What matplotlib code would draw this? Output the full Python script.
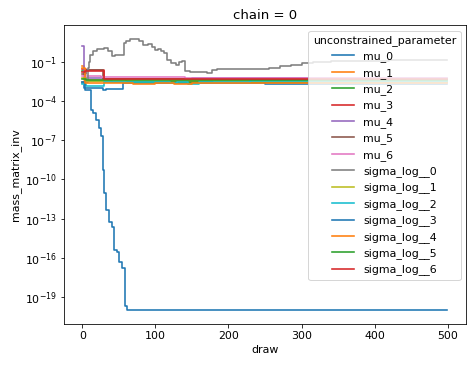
import matplotlib
matplotlib.use("Agg")
import matplotlib.pyplot as plt
import numpy as np

plt.rcParams["font.size"] = 11

# step series: draws where the value changes, and the value from that draw on
names = ["mu_0", "mu_1", "mu_2", "mu_3", "mu_4", "mu_5", "mu_6",
         "sigma_log__0", "sigma_log__1", "sigma_log__2", "sigma_log__3",
         "sigma_log__4", "sigma_log__5", "sigma_log__6"]

mu_0_x = [0, 3, 28, 33, 56, 120, 250]
mu_0_y = [2.5e-3, 9.5e-4, 7.0e-4, 8.0e-4, 2.4e-3, 2.2e-3, 2.1e-3]

mu_1_x = [0, 3, 30, 100, 200]
mu_1_y = [5.0e-2, 4.0e-3, 3.0e-3, 2.8e-3, 2.6e-3]

mu_2_x = [0, 4, 40, 150]
mu_2_y = [1.8e-2, 3.5e-3, 2.8e-3, 3.0e-3]

mu_3_x = [0, 5, 30, 120]
mu_3_y = [3.0e-2, 2.3e-2, 4.5e-3, 4.2e-3]

mu_4_x = [0, 3, 30, 150]
mu_4_y = [1.7, 6.0e-3, 5.0e-3, 5.5e-3]

mu_5_x = [0, 5, 28, 200]
mu_5_y = [1.2e-2, 2.3e-2, 5.0e-3, 4.8e-3]

mu_6_x = [0, 4, 25, 140]
mu_6_y = [8.0e-3, 8.5e-3, 6.5e-3, 6.0e-3]

sigma_log__0_x = [0, 8, 9, 10, 14, 20, 30, 35, 40, 45, 52, 57, 60, 65, 78, 83,
                  90, 95, 99, 104, 108, 112, 116, 122, 128, 133, 137, 141, 148,
                  171, 178, 184, 240, 255, 270, 285, 300, 315, 340, 370, 420, 460]
sigma_log__0_y = [3.0e-3, 3.2e-2, 0.1, 0.32, 0.6, 0.9, 1.1, 0.6, 0.25, 0.3,
                  0.35, 2.5, 4.0, 5.0, 4.0, 1.9, 2.2, 1.3, 0.8, 1.0, 0.6, 0.45,
                  0.13, 0.08, 0.06, 0.09, 0.11, 0.02, 0.017, 0.014, 0.025,
                  0.026, 0.03, 0.035, 0.045, 0.06, 0.08, 0.1, 0.11, 0.12,
                  0.13, 0.14]

sigma_log__1_x = [0, 5, 60, 180]
sigma_log__1_y = [6.0e-3, 3.5e-3, 3.8e-3, 3.5e-3]

sigma_log__2_x = [0, 5, 30, 120, 130, 145, 160, 230]
sigma_log__2_y = [2.0e-3, 1.4e-3, 3.0e-3, 2.2e-3, 3.0e-3, 2.1e-3, 3.0e-3, 3.2e-3]

sigma_log__3_x = [0, 4, 12, 15, 19, 23, 26, 29, 30, 32, 36, 41, 43, 48, 50,
                  54, 58, 61]
sigma_log__3_y = [3.0e-3, 7.0e-4, 2.0e-5, 1.2e-5, 3.5e-6, 8.0e-7, 2.0e-7,
                  5.0e-10, 1.0e-11, 5.0e-13, 6.0e-14, 2.5e-14, 4.0e-16,
                  3.0e-16, 5.0e-17, 1.8e-17, 2.0e-20, 1.1e-20]

sigma_log__4_x = [0, 4, 70, 100, 125, 150, 165, 260]
sigma_log__4_y = [3.5e-2, 2.5e-3, 1.9e-3, 2.3e-3, 1.8e-3, 2.5e-3, 2.2e-3, 2.4e-3]

sigma_log__5_x = [0, 5, 90]
sigma_log__5_y = [5.0e-3, 4.2e-3, 4.0e-3]

sigma_log__6_x = [0, 4, 30, 160]
sigma_log__6_y = [1.5e-2, 2.0e-2, 5.0e-3, 4.6e-3]

series = [(mu_0_x, mu_0_y), (mu_1_x, mu_1_y), (mu_2_x, mu_2_y),
          (mu_3_x, mu_3_y), (mu_4_x, mu_4_y), (mu_5_x, mu_5_y),
          (mu_6_x, mu_6_y), (sigma_log__0_x, sigma_log__0_y),
          (sigma_log__1_x, sigma_log__1_y), (sigma_log__2_x, sigma_log__2_y),
          (sigma_log__3_x, sigma_log__3_y), (sigma_log__4_x, sigma_log__4_y),
          (sigma_log__5_x, sigma_log__5_y), (sigma_log__6_x, sigma_log__6_y)]
last_draw = 499

fig = plt.figure(figsize=(474 / 72, 367 / 72), dpi=72)
ax = fig.add_axes([64 / 474, 1 - 324 / 367, 402 / 474, 299 / 367])

for name, (xs, ys) in zip(names, series):
    # hold the last value until the final draw
    xs = list(xs) + [last_draw]
    ys = list(ys) + [ys[-1]]
    ax.plot(xs, ys, drawstyle="steps-post", label=name, linewidth=1.6)

ax.set_yscale("log")
ax.set_xlim(-25, 525)
ax.set_ylim(10 ** -21.04, 10 ** 1.8)
ax.set_xlabel("draw")
ax.set_ylabel("mass_matrix_inv")
ax.set_title("chain = 0")
ax.legend(title="unconstrained_parameter", loc="upper right")

fig.savefig("out.png", dpi=72)
